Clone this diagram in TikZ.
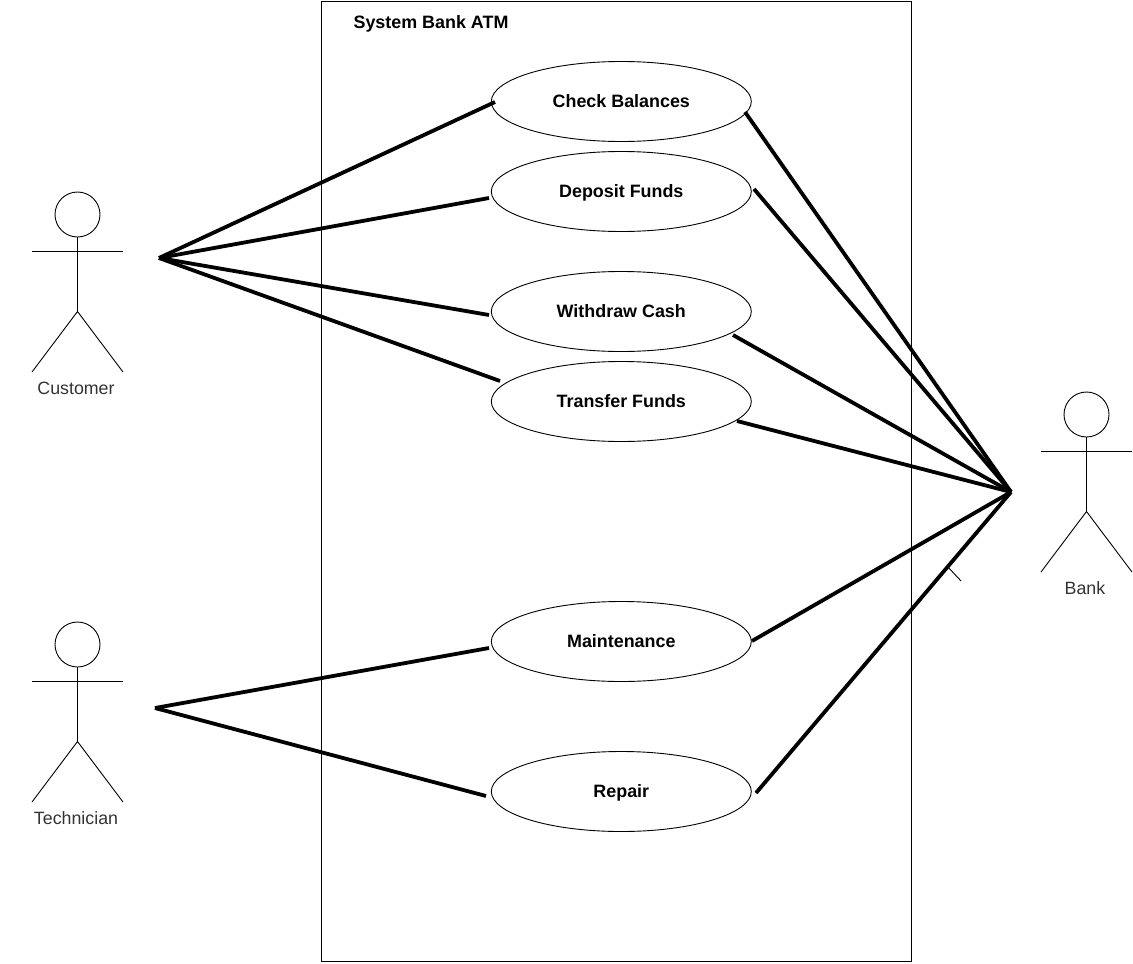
\documentclass[tikz,border=0pt]{standalone}
\usepackage{fontspec}
\setmainfont{Liberation Sans}
\usetikzlibrary{shapes.geometric}
\tikzset{
  usecase/.style={draw, ellipse, minimum width=260pt, minimum height=80pt, inner sep=0pt, line width=0.9pt, font=\fontsize{17.9pt}{20pt}\selectfont\bfseries, execute at begin node={\rule[-3pt]{0pt}{18pt}}},
  actorname/.style={font=\fontsize{17.8pt}{20pt}\selectfont, text=black!80, inner sep=0pt},
  assoc/.style={line width=3.8pt},
  thin line/.style={line width=0.9pt}
}
\newcommand{\stickman}[2]{%
  \draw[thin line] (#1+45.5,#2) circle (22.5pt);
  \draw[thin line] (#1+45.5,#2+22.5) -- (#1+45.5,#2+97);
  \draw[thin line] (#1,#2+37) -- (#1+91,#2+37);
  \draw[thin line] (#1,#2+157.5) -- (#1+45.5,#2+97) -- (#1+91,#2+157.5);
}
\begin{document}
\begin{tikzpicture}[x=1pt,y=-1pt]
  \useasboundingbox (0,0) rectangle (1133,964);
  % system box
  \node (system) [draw, line width=0.9pt, minimum width=590pt, minimum height=960pt, inner sep=0pt] at (616.5,481) {};
  \node (title) at (431,24) {\fontsize{17.9pt}{20pt}\selectfont\bfseries System Bank ATM};
  % use cases
  \node (check) [usecase] at (621.3,101.5) {Check Balances};
  \node (deposit) [usecase] at (621.3,191.5) {Deposit Funds};
  \node (withdraw) [usecase] at (621.3,311.5) {Withdraw Cash};
  \node (transfer) [usecase] at (621.3,401.5) {Transfer Funds};
  \node (maint) [usecase] at (621.3,641.5) {Maintenance};
  \node (repair) [usecase] at (621.3,791.5) {Repair};
  % actors
  \stickman{32}{214.5}
  \stickman{32}{644.5}
  \stickman{1041}{414.5}
  \node (customer) [actorname] at (76,388) {Customer};
  \node (technician) [actorname] at (76,818) {Technician};
  \node (bank) [actorname] at (1085,588) {Bank};
  % free ends of the lines
  \coordinate (custend) at (159,258);
  \coordinate (techend) at (155,708);
  \coordinate (bankend) at (1011,492);
  \draw[assoc] (custend) -- (495,102);
  \draw[assoc] (custend) -- (489,198);
  \draw[assoc] (custend) -- (489,315);
  \draw[assoc] (custend) -- (500,381);
  \draw[assoc] (techend) -- (489,648);
  \draw[assoc] (techend) -- (486,796);
  \draw[assoc] (bankend) -- (745,112);
  \draw[assoc] (bankend) -- (754,189);
  \draw[assoc] (bankend) -- (733,335);
  \draw[assoc] (bankend) -- (737,421);
  \draw[assoc] (bankend) -- (752,641);
  \draw[assoc] (bankend) -- (756,793);
  \coordinate (tickend) at (961,581);
  \coordinate (tickstart) at (947,566);
  \draw[thin line] (tickstart) -- (tickend);
\end{tikzpicture}
\end{document}
